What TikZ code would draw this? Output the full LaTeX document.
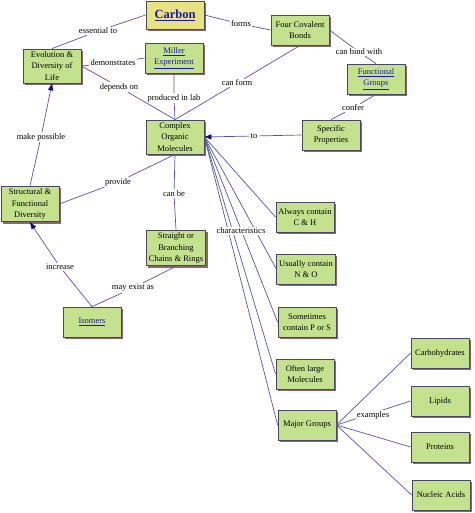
\documentclass[tikz,border=0pt]{standalone}
\usepackage{fontspec}
\setmainfont{Liberation Serif}
\usepackage{tikz}
\usetikzlibrary{arrows.meta, positioning, shadows}

\definecolor{ConceptFill}{RGB}{196,226,142}
\definecolor{CarbonFill}{RGB}{232,226,128}
\definecolor{BoxLine}{RGB}{72,72,96}
\definecolor{BoxShadow}{RGB}{140,100,118}
\definecolor{LinkLine}{RGB}{84,84,164}
\definecolor{ArrowNavy}{RGB}{10,10,130}
\definecolor{HyperBlue}{RGB}{24,24,160}

\newcommand{\cmaplink}[1]{\textcolor{HyperBlue}{\underline{#1}}}

\tikzstyle{concept} = [
  rectangle, draw=BoxLine, fill=ConceptFill, line width=0.8pt,
  align=center, minimum width=58pt, minimum height=30pt,
  inner sep=2.5pt, font=\fontsize{8.5}{11.5}\selectfont,
  drop shadow={shadow xshift=2pt, shadow yshift=-2pt, fill=BoxShadow, opacity=1}
]
\tikzstyle{topic} = [
  concept, fill=CarbonFill, minimum height=28pt,
  font=\fontsize{12.5}{14}\selectfont\bfseries
]
\tikzstyle{phrase} = [
  fill=white, inner sep=1pt, font=\fontsize{8.5}{10}\selectfont
]
\tikzstyle{conn} = [draw=LinkLine, line width=0.7pt]
\tikzstyle{arrow} = [conn, -{Triangle[length=7pt, width=5pt, color=ArrowNavy]}]

\begin{document}
\begin{tikzpicture}[x=1pt, y=-1pt]
  \useasboundingbox (0,0) rectangle (474,513);

  % Concepts
  \node[topic] (carbon) at (175,15) {\cmaplink{Carbon}};
  \node[concept] (bonds) at (300,30) {Four Covalent\\Bonds};
  \node[concept] (fgroups) at (376,79) {\cmaplink{Functional}\\\cmaplink{Groups}};
  \node[concept] (props) at (331,135) {Specific\\Properties};
  \node[concept] (evol) at (52,66) {Evolution \&\\Diversity of\\Life};
  \node[concept] (miller) at (174,58) {\cmaplink{Miller}\\\cmaplink{Experiment}};
  \node[concept] (com) at (175,137) {Complex\\Organic\\Molecules};
  \node[concept] (struct) at (30,204) {Structural \&\\Functional\\Diversity};
  \node[concept] (chains) at (176,248) {Straight or\\Branching\\Chains \& Rings};
  \node[concept] (isomers) at (92,322) {\cmaplink{Isomers}};

  % Characteristics
  \node[concept] (always) at (305,217) {Always contain\\C \& H};
  \node[concept] (usually) at (306,269) {Usually contain\\N \& O};
  \node[concept] (sometimes) at (307,322) {Sometimes\\contain P or S};
  \node[concept] (often) at (305,374) {Often large\\Molecules};
  \node[concept] (major) at (307,425) {Major Groups};

  % Examples
  \node[concept] (carbo) at (440,353) {Carbohydrates};
  \node[concept] (lipids) at (440,401) {Lipids};
  \node[concept] (proteins) at (440,447) {Proteins};
  \node[concept] (nucleic) at (441,495) {Nucleic Acids};

  % Linking phrases
  \node[phrase] (essential) at (98,31) {essential to};
  \node[phrase] (forms) at (241,24) {forms};
  \node[phrase] (demo) at (113,63) {demonstrates};
  \node[phrase] (depends) at (119,87) {depends on};
  \node[phrase] (produced) at (174,98) {produced in lab};
  \node[phrase] (canform) at (237,83) {can form};
  \node[phrase] (bindwith) at (359,52) {can bind with};
  \node[phrase] (confer) at (353,108) {confer};
  \node[phrase] (to) at (254,136) {to};
  \node[phrase] (possible) at (41,137) {make possible};
  \node[phrase] (provide) at (118,182) {provide};
  \node[phrase] (canbe) at (174,194) {can be};
  \node[phrase] (increase) at (60,267) {increase};
  \node[phrase] (exist) at (133,288) {may exist as};

  % Connections
  \draw[conn] (carbon.west) -- (essential) -- (evol.north);
  \draw[conn] (carbon.east) -- (forms) -- (bonds.west);
  \draw[conn] (miller.west) -- (demo) -- (evol.east);
  \draw[conn] (com.north) -- (depends) -- (evol.east);
  \draw[conn] (miller.south) -- (produced) -- (com.north);
  \draw[conn] (bonds.south) -- (canform) -- (com.north);
  \draw[conn] (bonds.east) -- (bindwith) -- (fgroups.north);
  \draw[conn] (fgroups.south) -- (confer) -- (props.north);
  \draw[arrow] (props.west) -- (to) -- (com.east);
  \draw[arrow] (struct.north) -- (possible) -- (evol.south);
  \draw[conn] (com.south) -- (provide) -- (struct.east);
  \draw[conn] (com.south) -- (canbe) -- (chains.north);
  \draw[arrow] (isomers.north) -- (increase) -- (struct.south);
  \draw[conn] (chains.south) -- (exist) -- (isomers.north);

  % Fan-out lines
  \foreach \t in {always,usually,sometimes,often,major}
    \draw[conn] (com.east) -- (\t.west);
  \node[phrase] (charac) at (241,231) {characteristics};

  \foreach \t in {carbo,lipids,proteins,nucleic}
    \draw[conn] (major.east) -- (\t.west);
  \node[phrase] (examples) at (373,415) {examples};

\end{tikzpicture}
\end{document}
